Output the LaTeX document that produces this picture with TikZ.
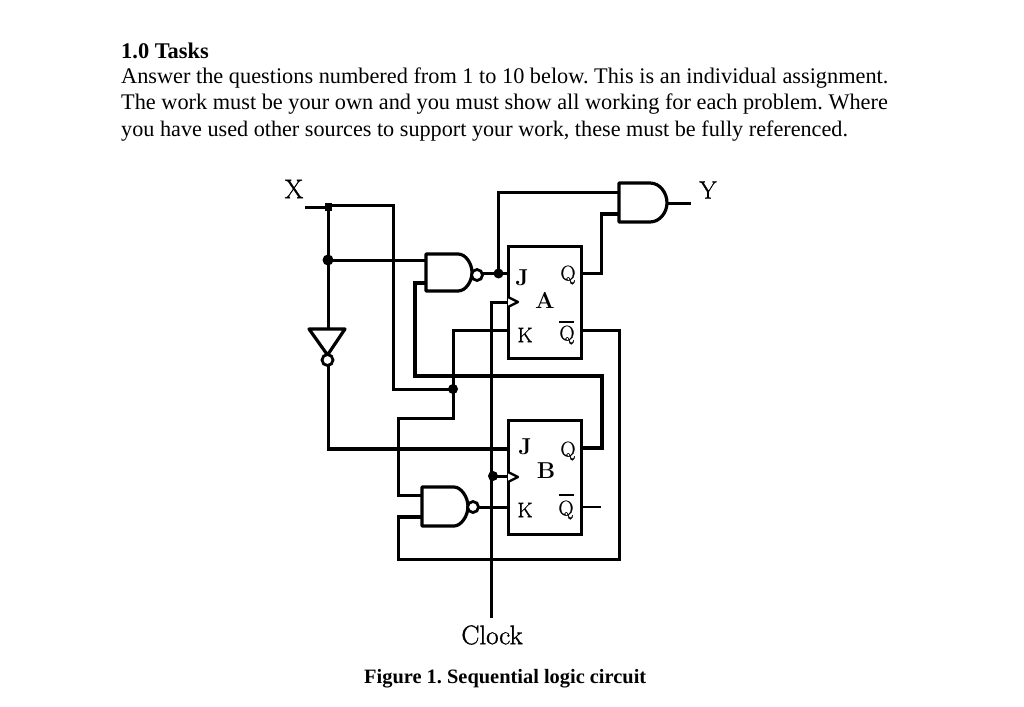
\documentclass[tikz,border=0pt]{standalone}
\usepackage{fontspec}
\newfontfamily\bodyfont{Liberation Serif}
\newfontfamily\lmfat[FakeBold=1.1]{Latin Modern Roman}
\frenchspacing
\tikzset{
  wire/.style={line width=3pt,line join=miter},
  thickwire/.style={line width=4.6pt,line join=miter},
  thinwire/.style={line width=1.5pt},
  gate/.style={line width=3.2pt,line join=round},
  ffbox/.style={draw,line width=3pt,minimum width=73pt,inner sep=0pt},
  bubble/.style={circle,draw,line width=2.8pt,fill=white,inner sep=0pt,minimum size=11pt},
  dot/.style={circle,fill=black,inner sep=0pt,minimum size=10pt},
  pinlabel/.style={font=\lmfat\fontsize{21}{21}\selectfont,inner sep=0pt},
  pinbold/.style={font=\fontsize{23}{23}\selectfont\bfseries,inner sep=0pt},
  sig/.style={font=\lmfat\fontsize{27}{27}\selectfont,inner sep=0pt},
  para/.style={font=\bodyfont\fontsize{22.3}{26}\selectfont,inner sep=0pt,anchor=base west},
  heading/.style={font=\bodyfont\fontsize{22.4}{26}\selectfont\bfseries,inner sep=0pt,anchor=base west},
}
\begin{document}
\begin{tikzpicture}[x=1pt,y=-1pt]
\useasboundingbox (0,0) rectangle (1024,706);
\fill[white] (0,0) rectangle (1024,706);
% text block
\node[heading] (t0) at (121,59) {1.0 Tasks};
\node[para] (t1) at (121,84) {Answer the questions numbered from 1 to 10 below. This is an individual assignment.};
\node[para] (t2) at (121,110) {The work must be your own and you must show all working for each problem. Where};
\node[para,font=\bodyfont\fontsize{22.2}{26}\selectfont] (t3) at (121,136) {you have used other sources to support your work, these must be fully referenced.};
\node[heading,font=\bodyfont\fontsize{20.4}{26}\selectfont\bfseries] (cap) at (364,683) {Figure 1. Sequential logic circuit};
% flip-flops
\node[ffbox,minimum height=112pt] (A) at (544.5,302) {};
\node[ffbox,minimum height=114pt] (B) at (544.5,477) {};
\node[pinbold] (AJl) at (522,278) {J};
\node[pinlabel] (AQl) at (568,275) {Q};
\node[pinbold] (AAl) at (545,300) {A};
\node[pinlabel] (AKl) at (525,335) {K};
\node[pinlabel] (AQb) at (567,335) {Q};
\node[pinbold] (BJl) at (525,447) {J};
\node[pinlabel] (BQl) at (568,451) {Q};
\node[pinbold] (BBl) at (546,471) {B};
\node[pinlabel] (BKl) at (525,510) {K};
\node[pinlabel] (BQb) at (566,510) {Q};
\draw[line width=2.6pt] (559,322) -- (574,322);
\draw[line width=2.6pt] (559,495) -- (574,495);
\node[sig] (X) at (294,189) {X};
\node[sig,font=\lmfat\fontsize{25}{25}\selectfont] (Y) at (708,190) {Y};
\node[sig] (Clock) at (492,635) {Clock};
% named points
\coordinate (Xin) at (305,207);
\coordinate (Xj) at (328,207);
\coordinate (Xk) at (328,260);
\coordinate (invtop) at (328,329);
\coordinate (N1a) at (426,260);
\coordinate (N1b) at (426,283);
\coordinate (N1o) at (482,273.5);
\coordinate (AJ) at (508,273.5);
\coordinate (Jdot) at (498.5,273.5);
\coordinate (G1a) at (619,192);
\coordinate (G1b) at (619,214);
\coordinate (G1o) at (667,203);
\coordinate (Yout) at (691,203);
\coordinate (AQ) at (581,273);
\coordinate (AK) at (508,330.5);
\coordinate (AQn) at (581,330);
\coordinate (Aclk) at (508,302);
\coordinate (BJ) at (508,449);
\coordinate (BQ) at (581,448);
\coordinate (BK) at (508,507);
\coordinate (BQn) at (581,507);
\coordinate (Bclk) at (508,476);
\coordinate (Bdot) at (493,476);
\coordinate (Kdot) at (453,389);
\coordinate (N2a) at (422,495);
\coordinate (N2b) at (422,517);
\coordinate (N2o) at (478,507);
\coordinate (Clk) at (491.5,618);
% wires
\draw[wire] (Xin) -- (Xj);
\draw[wire] (Xj) |- (393,205) |- (Kdot);
\draw[wire] (Xj) -- (invtop);
\draw[wire] (Xk) -- (N1a);
\draw[thickwire] (N1b) -| (415,376) -| (602,448) -- (BQ);
\draw[wire] (N1o) -- (AJ);
\draw[wire] (Jdot) |- (G1a);
\draw[wire] (AQ) -| (601,214);
\draw[thickwire] (600,214) -- (G1b);
\draw[wire] (G1o) -- (Yout);
\draw[wire] (AK) -| (Kdot) -- (453,418) -| (398,495) -- (N2a);
\draw[wire] (AQn) -| (619,559) -| (398,517);
\draw[thickwire] (397,517) -- (N2b);
\draw[wire] (N2o) -- (BK);
\draw[thinwire] (BQn) -- (601,507);
\draw[wire] (328,365) -- (328,449);
\draw[thickwire] (326.5,449) -- (BJ);
\draw[wire] (Clk) -- (491.5,302) -- (Aclk);
\draw[wire] (Bdot) -- (Bclk);
% clock triangles
\draw[gate,line width=2.4pt,fill=white] (508,297) -- (518,302) -- (508,307);
\draw[gate,line width=2.4pt,fill=white] (508,472) -- (518,477) -- (508,482);
% gates
\draw[gate,fill=white] (426,254) -- (458,254) .. controls (466,254) and (472,264) .. (472,272.5) .. controls (472,281) and (466,291) .. (458,291) -- (426,291) -- cycle;
\node[bubble] (N1bub) at (477,275) {};
\draw[gate,fill=white] (619,183) -- (650,183) .. controls (660,183) and (667,193) .. (667,203) .. controls (667,212) and (660,222) .. (650,222) -- (619,222) -- cycle;
\draw[gate,fill=white] (422,487) -- (454,487) .. controls (461,487) and (468,497) .. (468,506.5) .. controls (468,516) and (461,526) .. (454,526) -- (422,526) -- cycle;
\node[bubble] (N2bub) at (473,507) {};
% inverter
\draw[gate,fill=white] (309,329) -- (345,329) -- (327.5,355) -- cycle;
\node[bubble] (invb) at (327.5,360) {};
% junctions
\node[rectangle,fill=black,inner sep=0pt,minimum width=7pt,minimum height=8pt] (d1) at (Xj) {};
\node[dot,minimum size=11pt] (d2) at (Xk) {};
\node[dot] (d3) at (Jdot) {};
\node[dot] (d4) at (Kdot) {};
\node[dot] (d5) at (Bdot) {};
\end{tikzpicture}
\end{document}
